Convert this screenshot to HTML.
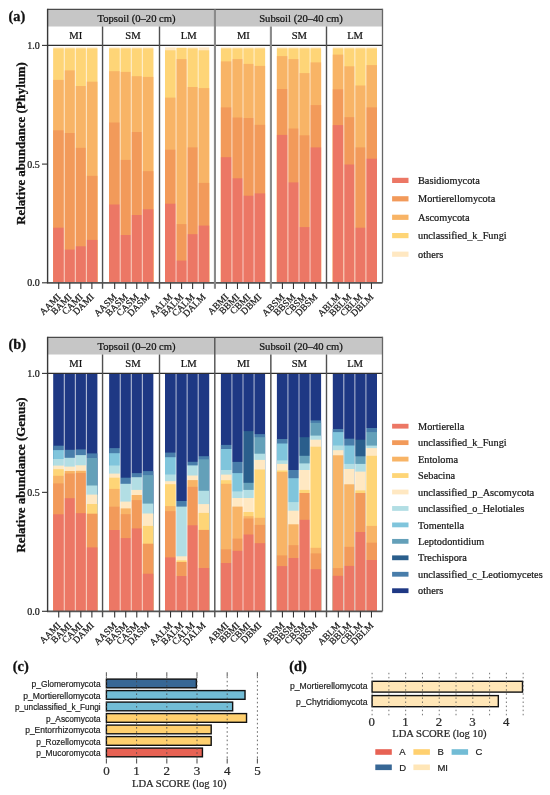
<!DOCTYPE html>
<html><head><meta charset="utf-8"><style>
html,body{margin:0;padding:0;background:#fff;}
svg{display:block;will-change:transform;}
text{font-family:"Liberation Serif",serif;fill:#111;}
.st,.tk{stroke:#111;stroke-width:0.22px;}
.xl,.lg,.ax,.ax2,.axt{stroke:#111;stroke-width:0.22px;}
.cl,.dl{stroke:#1a1a1a;stroke-width:0.18px;}
.pl,.yt{stroke:#111;stroke-width:0.3px;}
.pl{font-size:14.4px;font-weight:bold;}
.st{font-size:10.6px;}
.tk{font-size:10px;fill:#222;}
.xl{font-size:9.5px;fill:#222;}
.yt{font-size:12.85px;font-weight:bold;}
.lg{font-size:10.3px;fill:#222;}
.cl{font-family:"Liberation Sans",sans-serif;font-size:8.5px;fill:#1a1a1a;}
.ax{font-size:13px;fill:#333;}
.ax2{font-size:12.8px;fill:#333;}
.axt{font-size:10.6px;fill:#333;}
.dl{font-family:"Liberation Sans",sans-serif;font-size:9.5px;fill:#222;}
</style></head><body>
<svg width="550" height="795" viewBox="0 0 550 795">
<rect x="0" y="0" width="550" height="795" fill="#fff"/>
<rect x="47.7" y="9.4" width="167.4" height="17.1" fill="#C6C6C6"/>
<rect x="215.1" y="9.4" width="167.3" height="17.1" fill="#C6C6C6"/>
<rect x="53.2" y="47.4" width="11.05" height="235" fill="#FFE8C2"/>
<rect x="53.2" y="48.4" width="11.05" height="234" fill="#FED577"/>
<rect x="53.2" y="79.9" width="11.05" height="202.5" fill="#F8B466"/>
<rect x="53.2" y="130.3" width="11.05" height="152.1" fill="#F29A5A"/>
<rect x="53.2" y="227.7" width="11.05" height="54.7" fill="#EC7765"/>
<rect x="64.25" y="47.4" width="11.05" height="235" fill="#FFE8C2"/>
<rect x="64.25" y="48.4" width="11.05" height="234" fill="#FED577"/>
<rect x="64.25" y="70.4" width="11.05" height="212" fill="#F8B466"/>
<rect x="64.25" y="133" width="11.05" height="149.4" fill="#F29A5A"/>
<rect x="64.25" y="249.6" width="11.05" height="32.8" fill="#EC7765"/>
<rect x="75.3" y="47.4" width="11.05" height="235" fill="#FFE8C2"/>
<rect x="75.3" y="48.4" width="11.05" height="234" fill="#FED577"/>
<rect x="75.3" y="86" width="11.05" height="196.4" fill="#F8B466"/>
<rect x="75.3" y="147.8" width="11.05" height="134.6" fill="#F29A5A"/>
<rect x="75.3" y="246.3" width="11.05" height="36.1" fill="#EC7765"/>
<rect x="86.35" y="47.4" width="11.05" height="235" fill="#FFE8C2"/>
<rect x="86.35" y="48.4" width="11.05" height="234" fill="#FED577"/>
<rect x="86.35" y="81.7" width="11.05" height="200.7" fill="#F8B466"/>
<rect x="86.35" y="175.8" width="11.05" height="106.6" fill="#F29A5A"/>
<rect x="86.35" y="239.9" width="11.05" height="42.5" fill="#EC7765"/>
<rect x="109.15" y="47.4" width="11.05" height="235" fill="#FFE8C2"/>
<rect x="109.15" y="48.4" width="11.05" height="234" fill="#FED577"/>
<rect x="109.15" y="71.2" width="11.05" height="211.2" fill="#F8B466"/>
<rect x="109.15" y="122.5" width="11.05" height="159.9" fill="#F29A5A"/>
<rect x="109.15" y="204.5" width="11.05" height="77.9" fill="#EC7765"/>
<rect x="120.2" y="47.4" width="11.05" height="235" fill="#FFE8C2"/>
<rect x="120.2" y="48.4" width="11.05" height="234" fill="#FED577"/>
<rect x="120.2" y="71.9" width="11.05" height="210.5" fill="#F8B466"/>
<rect x="120.2" y="159.9" width="11.05" height="122.5" fill="#F29A5A"/>
<rect x="120.2" y="235" width="11.05" height="47.4" fill="#EC7765"/>
<rect x="131.25" y="47.4" width="11.05" height="235" fill="#FFE8C2"/>
<rect x="131.25" y="48.4" width="11.05" height="234" fill="#FED577"/>
<rect x="131.25" y="76.2" width="11.05" height="206.2" fill="#F8B466"/>
<rect x="131.25" y="132" width="11.05" height="150.4" fill="#F29A5A"/>
<rect x="131.25" y="215" width="11.05" height="67.4" fill="#EC7765"/>
<rect x="142.3" y="47.4" width="11.05" height="235" fill="#FFE8C2"/>
<rect x="142.3" y="48.4" width="11.05" height="234" fill="#FED577"/>
<rect x="142.3" y="76.9" width="11.05" height="205.5" fill="#F8B466"/>
<rect x="142.3" y="171.2" width="11.05" height="111.2" fill="#F29A5A"/>
<rect x="142.3" y="209.3" width="11.05" height="73.1" fill="#EC7765"/>
<rect x="165" y="47.4" width="11.05" height="235" fill="#FFE8C2"/>
<rect x="165" y="50.3" width="11.05" height="232.1" fill="#FED577"/>
<rect x="165" y="97.6" width="11.05" height="184.8" fill="#F8B466"/>
<rect x="165" y="149.7" width="11.05" height="132.7" fill="#F29A5A"/>
<rect x="165" y="203.7" width="11.05" height="78.7" fill="#EC7765"/>
<rect x="176.05" y="47.4" width="11.05" height="235" fill="#FFE8C2"/>
<rect x="176.05" y="48" width="11.05" height="234.4" fill="#FED577"/>
<rect x="176.05" y="59.1" width="11.05" height="223.3" fill="#F8B466"/>
<rect x="176.05" y="224.1" width="11.05" height="58.3" fill="#F29A5A"/>
<rect x="176.05" y="260.6" width="11.05" height="21.8" fill="#EC7765"/>
<rect x="187.1" y="47.4" width="11.05" height="235" fill="#FFE8C2"/>
<rect x="187.1" y="48.4" width="11.05" height="234" fill="#FED577"/>
<rect x="187.1" y="87" width="11.05" height="195.4" fill="#F8B466"/>
<rect x="187.1" y="147.4" width="11.05" height="135" fill="#F29A5A"/>
<rect x="187.1" y="234.2" width="11.05" height="48.2" fill="#EC7765"/>
<rect x="198.15" y="47.4" width="11.05" height="235" fill="#FFE8C2"/>
<rect x="198.15" y="50.3" width="11.05" height="232.1" fill="#FED577"/>
<rect x="198.15" y="88.1" width="11.05" height="194.3" fill="#F8B466"/>
<rect x="198.15" y="182.9" width="11.05" height="99.5" fill="#F29A5A"/>
<rect x="198.15" y="225.6" width="11.05" height="56.8" fill="#EC7765"/>
<rect x="220.9" y="47.4" width="11.05" height="235" fill="#FFE8C2"/>
<rect x="220.9" y="48.4" width="11.05" height="234" fill="#FED577"/>
<rect x="220.9" y="61.4" width="11.05" height="221" fill="#F8B466"/>
<rect x="220.9" y="107.4" width="11.05" height="175" fill="#F29A5A"/>
<rect x="220.9" y="157.2" width="11.05" height="125.2" fill="#EC7765"/>
<rect x="231.95" y="47.4" width="11.05" height="235" fill="#FFE8C2"/>
<rect x="231.95" y="48.4" width="11.05" height="234" fill="#FED577"/>
<rect x="231.95" y="59.1" width="11.05" height="223.3" fill="#F8B466"/>
<rect x="231.95" y="117.5" width="11.05" height="164.9" fill="#F29A5A"/>
<rect x="231.95" y="178.3" width="11.05" height="104.1" fill="#EC7765"/>
<rect x="243" y="47.4" width="11.05" height="235" fill="#FFE8C2"/>
<rect x="243" y="48.4" width="11.05" height="234" fill="#FED577"/>
<rect x="243" y="63.9" width="11.05" height="218.5" fill="#F8B466"/>
<rect x="243" y="118" width="11.05" height="164.4" fill="#F29A5A"/>
<rect x="243" y="195.7" width="11.05" height="86.7" fill="#EC7765"/>
<rect x="254.05" y="47.4" width="11.05" height="235" fill="#FFE8C2"/>
<rect x="254.05" y="48.4" width="11.05" height="234" fill="#FED577"/>
<rect x="254.05" y="65.9" width="11.05" height="216.5" fill="#F8B466"/>
<rect x="254.05" y="124.8" width="11.05" height="157.6" fill="#F29A5A"/>
<rect x="254.05" y="193.4" width="11.05" height="89" fill="#EC7765"/>
<rect x="276.9" y="47.4" width="11.05" height="235" fill="#FFE8C2"/>
<rect x="276.9" y="48.4" width="11.05" height="234" fill="#FED577"/>
<rect x="276.9" y="56.1" width="11.05" height="226.3" fill="#F8B466"/>
<rect x="276.9" y="89" width="11.05" height="193.4" fill="#F29A5A"/>
<rect x="276.9" y="134.9" width="11.05" height="147.5" fill="#EC7765"/>
<rect x="287.95" y="47.4" width="11.05" height="235" fill="#FFE8C2"/>
<rect x="287.95" y="48.4" width="11.05" height="234" fill="#FED577"/>
<rect x="287.95" y="59.1" width="11.05" height="223.3" fill="#F8B466"/>
<rect x="287.95" y="128.5" width="11.05" height="153.9" fill="#F29A5A"/>
<rect x="287.95" y="182.4" width="11.05" height="100" fill="#EC7765"/>
<rect x="299" y="47.4" width="11.05" height="235" fill="#FFE8C2"/>
<rect x="299" y="48.4" width="11.05" height="234" fill="#FED577"/>
<rect x="299" y="73.1" width="11.05" height="209.3" fill="#F8B466"/>
<rect x="299" y="135.3" width="11.05" height="147.1" fill="#F29A5A"/>
<rect x="299" y="227.1" width="11.05" height="55.3" fill="#EC7765"/>
<rect x="310.05" y="47.4" width="11.05" height="235" fill="#FFE8C2"/>
<rect x="310.05" y="48.4" width="11.05" height="234" fill="#FED577"/>
<rect x="310.05" y="62.4" width="11.05" height="220" fill="#F8B466"/>
<rect x="310.05" y="105.1" width="11.05" height="177.3" fill="#F29A5A"/>
<rect x="310.05" y="147.4" width="11.05" height="135" fill="#EC7765"/>
<rect x="332.8" y="47.4" width="11.05" height="235" fill="#FFE8C2"/>
<rect x="332.8" y="48.4" width="11.05" height="234" fill="#FED577"/>
<rect x="332.8" y="54.6" width="11.05" height="227.8" fill="#F8B466"/>
<rect x="332.8" y="89.3" width="11.05" height="193.1" fill="#F29A5A"/>
<rect x="332.8" y="125.1" width="11.05" height="157.3" fill="#EC7765"/>
<rect x="343.85" y="47.4" width="11.05" height="235" fill="#FFE8C2"/>
<rect x="343.85" y="48.4" width="11.05" height="234" fill="#FED577"/>
<rect x="343.85" y="66.3" width="11.05" height="216.1" fill="#F8B466"/>
<rect x="343.85" y="117.2" width="11.05" height="165.2" fill="#F29A5A"/>
<rect x="343.85" y="164.5" width="11.05" height="117.9" fill="#EC7765"/>
<rect x="354.9" y="47.4" width="11.05" height="235" fill="#FFE8C2"/>
<rect x="354.9" y="48.4" width="11.05" height="234" fill="#FED577"/>
<rect x="354.9" y="85.5" width="11.05" height="196.9" fill="#F8B466"/>
<rect x="354.9" y="147.4" width="11.05" height="135" fill="#F29A5A"/>
<rect x="354.9" y="227.7" width="11.05" height="54.7" fill="#EC7765"/>
<rect x="365.95" y="47.4" width="11.05" height="235" fill="#FFE8C2"/>
<rect x="365.95" y="48.4" width="11.05" height="234" fill="#FED577"/>
<rect x="365.95" y="65.1" width="11.05" height="217.3" fill="#F8B466"/>
<rect x="365.95" y="107.4" width="11.05" height="175" fill="#F29A5A"/>
<rect x="365.95" y="158.7" width="11.05" height="123.7" fill="#EC7765"/>
<line x1="64.25" y1="45.4" x2="64.25" y2="282.8" stroke="#fff" stroke-width="0.75" opacity="0.85"/>
<line x1="75.3" y1="45.4" x2="75.3" y2="282.8" stroke="#fff" stroke-width="0.75" opacity="0.85"/>
<line x1="86.35" y1="45.4" x2="86.35" y2="282.8" stroke="#fff" stroke-width="0.75" opacity="0.85"/>
<line x1="120.2" y1="45.4" x2="120.2" y2="282.8" stroke="#fff" stroke-width="0.75" opacity="0.85"/>
<line x1="131.25" y1="45.4" x2="131.25" y2="282.8" stroke="#fff" stroke-width="0.75" opacity="0.85"/>
<line x1="142.3" y1="45.4" x2="142.3" y2="282.8" stroke="#fff" stroke-width="0.75" opacity="0.85"/>
<line x1="176.05" y1="45.4" x2="176.05" y2="282.8" stroke="#fff" stroke-width="0.75" opacity="0.85"/>
<line x1="187.1" y1="45.4" x2="187.1" y2="282.8" stroke="#fff" stroke-width="0.75" opacity="0.85"/>
<line x1="198.15" y1="45.4" x2="198.15" y2="282.8" stroke="#fff" stroke-width="0.75" opacity="0.85"/>
<line x1="231.95" y1="45.4" x2="231.95" y2="282.8" stroke="#fff" stroke-width="0.75" opacity="0.85"/>
<line x1="243" y1="45.4" x2="243" y2="282.8" stroke="#fff" stroke-width="0.75" opacity="0.85"/>
<line x1="254.05" y1="45.4" x2="254.05" y2="282.8" stroke="#fff" stroke-width="0.75" opacity="0.85"/>
<line x1="287.95" y1="45.4" x2="287.95" y2="282.8" stroke="#fff" stroke-width="0.75" opacity="0.85"/>
<line x1="299" y1="45.4" x2="299" y2="282.8" stroke="#fff" stroke-width="0.75" opacity="0.85"/>
<line x1="310.05" y1="45.4" x2="310.05" y2="282.8" stroke="#fff" stroke-width="0.75" opacity="0.85"/>
<line x1="343.85" y1="45.4" x2="343.85" y2="282.8" stroke="#fff" stroke-width="0.75" opacity="0.85"/>
<line x1="354.9" y1="45.4" x2="354.9" y2="282.8" stroke="#fff" stroke-width="0.75" opacity="0.85"/>
<line x1="365.95" y1="45.4" x2="365.95" y2="282.8" stroke="#fff" stroke-width="0.75" opacity="0.85"/>
<line x1="47.6" y1="9.4" x2="382.5" y2="9.4" stroke="#4a4a4a" stroke-width="1.25"/>
<line x1="47.6" y1="45.4" x2="382.5" y2="45.4" stroke="#2e2e2e" stroke-width="1.25"/>
<line x1="46.9" y1="282.8" x2="382.5" y2="282.8" stroke="#555" stroke-width="1.8"/>
<line x1="47.6" y1="8.8" x2="47.6" y2="282.8" stroke="#383838" stroke-width="1.4"/>
<line x1="382.5" y1="8.8" x2="382.5" y2="282.8" stroke="#666" stroke-width="1.3"/>
<line x1="102.55" y1="26.5" x2="102.55" y2="288.7" stroke="#505050" stroke-width="1.4"/>
<line x1="159.5" y1="26.5" x2="159.5" y2="288.7" stroke="#505050" stroke-width="1.4"/>
<line x1="326.5" y1="26.5" x2="326.5" y2="288.7" stroke="#505050" stroke-width="1.4"/>
<line x1="214.95" y1="9.4" x2="214.95" y2="288.7" stroke="#8a8a8a" stroke-width="2.1"/>
<line x1="270.9" y1="26.5" x2="270.9" y2="288.7" stroke="#8a8a8a" stroke-width="2.1"/>
<line x1="42" y1="282.8" x2="47.7" y2="282.8" stroke="#333" stroke-width="1.1"/>
<line x1="42" y1="164.1" x2="47.7" y2="164.1" stroke="#333" stroke-width="1.1"/>
<line x1="42" y1="45.4" x2="47.7" y2="45.4" stroke="#333" stroke-width="1.1"/>
<line x1="58.73" y1="282.8" x2="58.73" y2="289" stroke="#333" stroke-width="1.1"/>
<line x1="69.78" y1="282.8" x2="69.78" y2="289" stroke="#333" stroke-width="1.1"/>
<line x1="80.83" y1="282.8" x2="80.83" y2="289" stroke="#333" stroke-width="1.1"/>
<line x1="91.88" y1="282.8" x2="91.88" y2="289" stroke="#333" stroke-width="1.1"/>
<line x1="114.68" y1="282.8" x2="114.68" y2="289" stroke="#333" stroke-width="1.1"/>
<line x1="125.73" y1="282.8" x2="125.73" y2="289" stroke="#333" stroke-width="1.1"/>
<line x1="136.78" y1="282.8" x2="136.78" y2="289" stroke="#333" stroke-width="1.1"/>
<line x1="147.83" y1="282.8" x2="147.83" y2="289" stroke="#333" stroke-width="1.1"/>
<line x1="170.53" y1="282.8" x2="170.53" y2="289" stroke="#333" stroke-width="1.1"/>
<line x1="181.58" y1="282.8" x2="181.58" y2="289" stroke="#333" stroke-width="1.1"/>
<line x1="192.62" y1="282.8" x2="192.62" y2="289" stroke="#333" stroke-width="1.1"/>
<line x1="203.68" y1="282.8" x2="203.68" y2="289" stroke="#333" stroke-width="1.1"/>
<line x1="226.43" y1="282.8" x2="226.43" y2="289" stroke="#333" stroke-width="1.1"/>
<line x1="237.48" y1="282.8" x2="237.48" y2="289" stroke="#333" stroke-width="1.1"/>
<line x1="248.53" y1="282.8" x2="248.53" y2="289" stroke="#333" stroke-width="1.1"/>
<line x1="259.57" y1="282.8" x2="259.57" y2="289" stroke="#333" stroke-width="1.1"/>
<line x1="282.42" y1="282.8" x2="282.42" y2="289" stroke="#333" stroke-width="1.1"/>
<line x1="293.47" y1="282.8" x2="293.47" y2="289" stroke="#333" stroke-width="1.1"/>
<line x1="304.52" y1="282.8" x2="304.52" y2="289" stroke="#333" stroke-width="1.1"/>
<line x1="315.57" y1="282.8" x2="315.57" y2="289" stroke="#333" stroke-width="1.1"/>
<line x1="338.32" y1="282.8" x2="338.32" y2="289" stroke="#333" stroke-width="1.1"/>
<line x1="349.38" y1="282.8" x2="349.38" y2="289" stroke="#333" stroke-width="1.1"/>
<line x1="360.43" y1="282.8" x2="360.43" y2="289" stroke="#333" stroke-width="1.1"/>
<line x1="371.48" y1="282.8" x2="371.48" y2="289" stroke="#333" stroke-width="1.1"/>
<text x="8.5" y="20.6" class="pl">(a)</text>
<text x="136.5" y="22.3" class="st" text-anchor="middle">Topsoil (0–20 cm)</text>
<text x="301" y="22.3" class="st" text-anchor="middle">Subsoil (20–40 cm)</text>
<text x="75.8" y="38.9" class="st" text-anchor="middle">MI</text>
<text x="133" y="38.9" class="st" text-anchor="middle">SM</text>
<text x="188.8" y="38.9" class="st" text-anchor="middle">LM</text>
<text x="243.4" y="38.9" class="st" text-anchor="middle">MI</text>
<text x="299.3" y="38.9" class="st" text-anchor="middle">SM</text>
<text x="355.1" y="38.9" class="st" text-anchor="middle">LM</text>
<text x="39.7" y="286.3" class="tk" text-anchor="end">0.0</text>
<text x="39.7" y="167.6" class="tk" text-anchor="end">0.5</text>
<text x="39.7" y="48.9" class="tk" text-anchor="end">1.0</text>
<text transform="translate(61.23,297.6) rotate(-45)" class="xl" text-anchor="end">AAMI</text>
<text transform="translate(72.28,297.6) rotate(-45)" class="xl" text-anchor="end">BAMI</text>
<text transform="translate(83.33,297.6) rotate(-45)" class="xl" text-anchor="end">CAMI</text>
<text transform="translate(94.38,297.6) rotate(-45)" class="xl" text-anchor="end">DAMI</text>
<text transform="translate(117.18,297.6) rotate(-45)" class="xl" text-anchor="end">AASM</text>
<text transform="translate(128.23,297.6) rotate(-45)" class="xl" text-anchor="end">BASM</text>
<text transform="translate(139.28,297.6) rotate(-45)" class="xl" text-anchor="end">CASM</text>
<text transform="translate(150.33,297.6) rotate(-45)" class="xl" text-anchor="end">DASM</text>
<text transform="translate(173.03,297.6) rotate(-45)" class="xl" text-anchor="end">AALM</text>
<text transform="translate(184.08,297.6) rotate(-45)" class="xl" text-anchor="end">BALM</text>
<text transform="translate(195.12,297.6) rotate(-45)" class="xl" text-anchor="end">CALM</text>
<text transform="translate(206.18,297.6) rotate(-45)" class="xl" text-anchor="end">DALM</text>
<text transform="translate(228.93,297.6) rotate(-45)" class="xl" text-anchor="end">ABMI</text>
<text transform="translate(239.98,297.6) rotate(-45)" class="xl" text-anchor="end">BBMI</text>
<text transform="translate(251.03,297.6) rotate(-45)" class="xl" text-anchor="end">CBMI</text>
<text transform="translate(262.07,297.6) rotate(-45)" class="xl" text-anchor="end">DBMI</text>
<text transform="translate(284.92,297.6) rotate(-45)" class="xl" text-anchor="end">ABSM</text>
<text transform="translate(295.97,297.6) rotate(-45)" class="xl" text-anchor="end">BBSM</text>
<text transform="translate(307.02,297.6) rotate(-45)" class="xl" text-anchor="end">CBSM</text>
<text transform="translate(318.07,297.6) rotate(-45)" class="xl" text-anchor="end">DBSM</text>
<text transform="translate(340.82,297.6) rotate(-45)" class="xl" text-anchor="end">ABLM</text>
<text transform="translate(351.88,297.6) rotate(-45)" class="xl" text-anchor="end">BBLM</text>
<text transform="translate(362.93,297.6) rotate(-45)" class="xl" text-anchor="end">CBLM</text>
<text transform="translate(373.98,297.6) rotate(-45)" class="xl" text-anchor="end">DBLM</text>
<text transform="translate(25,143.5) rotate(-90)" class="yt" text-anchor="middle">Relative abundance (Phylum)</text>
<rect x="47.7" y="337.4" width="167.4" height="17.1" fill="#C6C6C6"/>
<rect x="215.1" y="337.4" width="167.3" height="17.1" fill="#C6C6C6"/>
<rect x="53.2" y="373.3" width="11.05" height="237.6" fill="#1E3884"/>
<rect x="53.2" y="445.7" width="11.05" height="165.2" fill="#487DAA"/>
<rect x="53.2" y="450.1" width="11.05" height="160.8" fill="#80C5DC"/>
<rect x="53.2" y="459" width="11.05" height="151.9" fill="#B2DEE4"/>
<rect x="53.2" y="465.6" width="11.05" height="145.3" fill="#FFE8C2"/>
<rect x="53.2" y="469.2" width="11.05" height="141.7" fill="#FED577"/>
<rect x="53.2" y="475.8" width="11.05" height="135.1" fill="#F8B466"/>
<rect x="53.2" y="483.4" width="11.05" height="127.5" fill="#F29A5A"/>
<rect x="53.2" y="514.3" width="11.05" height="96.6" fill="#EC7765"/>
<rect x="64.25" y="373.3" width="11.05" height="237.6" fill="#1E3884"/>
<rect x="64.25" y="449.8" width="11.05" height="161.1" fill="#487DAA"/>
<rect x="64.25" y="457.8" width="11.05" height="153.1" fill="#B2DEE4"/>
<rect x="64.25" y="466.6" width="11.05" height="144.3" fill="#FFE8C2"/>
<rect x="64.25" y="471" width="11.05" height="139.9" fill="#F8B466"/>
<rect x="64.25" y="473.5" width="11.05" height="137.4" fill="#F29A5A"/>
<rect x="64.25" y="498.2" width="11.05" height="112.7" fill="#EC7765"/>
<rect x="75.3" y="373.3" width="11.05" height="237.6" fill="#1E3884"/>
<rect x="75.3" y="449.4" width="11.05" height="161.5" fill="#487DAA"/>
<rect x="75.3" y="455.1" width="11.05" height="155.8" fill="#B2DEE4"/>
<rect x="75.3" y="465.3" width="11.05" height="145.6" fill="#FFE8C2"/>
<rect x="75.3" y="470.8" width="11.05" height="140.1" fill="#F8B466"/>
<rect x="75.3" y="473" width="11.05" height="137.9" fill="#F29A5A"/>
<rect x="75.3" y="513.2" width="11.05" height="97.7" fill="#EC7765"/>
<rect x="86.35" y="373.3" width="11.05" height="237.6" fill="#1E3884"/>
<rect x="86.35" y="453.4" width="11.05" height="157.5" fill="#487DAA"/>
<rect x="86.35" y="458" width="11.05" height="152.9" fill="#64A0B9"/>
<rect x="86.35" y="485.5" width="11.05" height="125.4" fill="#B2DEE4"/>
<rect x="86.35" y="494.6" width="11.05" height="116.3" fill="#FFE8C2"/>
<rect x="86.35" y="504" width="11.05" height="106.9" fill="#FED577"/>
<rect x="86.35" y="513.7" width="11.05" height="97.2" fill="#F29A5A"/>
<rect x="86.35" y="547.4" width="11.05" height="63.5" fill="#EC7765"/>
<rect x="109.15" y="373.3" width="11.05" height="237.6" fill="#1E3884"/>
<rect x="109.15" y="448.1" width="11.05" height="162.8" fill="#487DAA"/>
<rect x="109.15" y="453.2" width="11.05" height="157.7" fill="#80C5DC"/>
<rect x="109.15" y="465.5" width="11.05" height="145.4" fill="#B2DEE4"/>
<rect x="109.15" y="473.6" width="11.05" height="137.3" fill="#FFE8C2"/>
<rect x="109.15" y="477.7" width="11.05" height="133.2" fill="#FED577"/>
<rect x="109.15" y="488.9" width="11.05" height="122" fill="#F8B466"/>
<rect x="109.15" y="506.7" width="11.05" height="104.2" fill="#F29A5A"/>
<rect x="109.15" y="530" width="11.05" height="80.9" fill="#EC7765"/>
<rect x="120.2" y="373.3" width="11.05" height="237.6" fill="#1E3884"/>
<rect x="120.2" y="477.7" width="11.05" height="133.2" fill="#487DAA"/>
<rect x="120.2" y="483.8" width="11.05" height="127.1" fill="#B2DEE4"/>
<rect x="120.2" y="501.6" width="11.05" height="109.3" fill="#FFE8C2"/>
<rect x="120.2" y="508.4" width="11.05" height="102.5" fill="#F8B466"/>
<rect x="120.2" y="514.2" width="11.05" height="96.7" fill="#F29A5A"/>
<rect x="120.2" y="538.1" width="11.05" height="72.8" fill="#EC7765"/>
<rect x="131.25" y="373.3" width="11.05" height="237.6" fill="#1E3884"/>
<rect x="131.25" y="473.1" width="11.05" height="137.8" fill="#487DAA"/>
<rect x="131.25" y="477.2" width="11.05" height="133.7" fill="#B2DEE4"/>
<rect x="131.25" y="489.9" width="11.05" height="121" fill="#FFE8C2"/>
<rect x="131.25" y="495" width="11.05" height="115.9" fill="#F8B466"/>
<rect x="131.25" y="500.1" width="11.05" height="110.8" fill="#F29A5A"/>
<rect x="131.25" y="528.4" width="11.05" height="82.5" fill="#EC7765"/>
<rect x="142.3" y="373.3" width="11.05" height="237.6" fill="#1E3884"/>
<rect x="142.3" y="471.1" width="11.05" height="139.8" fill="#487DAA"/>
<rect x="142.3" y="475.1" width="11.05" height="135.8" fill="#64A0B9"/>
<rect x="142.3" y="503.6" width="11.05" height="107.3" fill="#B2DEE4"/>
<rect x="142.3" y="513.5" width="11.05" height="97.4" fill="#FFE8C2"/>
<rect x="142.3" y="525.9" width="11.05" height="85" fill="#FED577"/>
<rect x="142.3" y="543.7" width="11.05" height="67.2" fill="#F29A5A"/>
<rect x="142.3" y="573.7" width="11.05" height="37.2" fill="#EC7765"/>
<rect x="165" y="373.3" width="11.05" height="237.6" fill="#1E3884"/>
<rect x="165" y="452.6" width="11.05" height="158.3" fill="#487DAA"/>
<rect x="165" y="457.2" width="11.05" height="153.7" fill="#80C5DC"/>
<rect x="165" y="474.5" width="11.05" height="136.4" fill="#B2DEE4"/>
<rect x="165" y="481.2" width="11.05" height="129.7" fill="#FFE8C2"/>
<rect x="165" y="484.2" width="11.05" height="126.7" fill="#FED577"/>
<rect x="165" y="506.1" width="11.05" height="104.8" fill="#F8B466"/>
<rect x="165" y="511.2" width="11.05" height="99.7" fill="#F29A5A"/>
<rect x="165" y="557.4" width="11.05" height="53.5" fill="#EC7765"/>
<rect x="176.05" y="373.3" width="11.05" height="237.6" fill="#1E3884"/>
<rect x="176.05" y="501" width="11.05" height="109.9" fill="#487DAA"/>
<rect x="176.05" y="506.6" width="11.05" height="104.3" fill="#B2DEE4"/>
<rect x="176.05" y="556.3" width="11.05" height="54.6" fill="#FFE8C2"/>
<rect x="176.05" y="560.4" width="11.05" height="50.5" fill="#FED577"/>
<rect x="176.05" y="562" width="11.05" height="48.9" fill="#F29A5A"/>
<rect x="176.05" y="576" width="11.05" height="34.9" fill="#EC7765"/>
<rect x="187.1" y="373.3" width="11.05" height="237.6" fill="#1E3884"/>
<rect x="187.1" y="461.8" width="11.05" height="149.1" fill="#487DAA"/>
<rect x="187.1" y="465.4" width="11.05" height="145.5" fill="#B2DEE4"/>
<rect x="187.1" y="475.5" width="11.05" height="135.4" fill="#FFE8C2"/>
<rect x="187.1" y="480.1" width="11.05" height="130.8" fill="#F8B466"/>
<rect x="187.1" y="486.8" width="11.05" height="124.1" fill="#F29A5A"/>
<rect x="187.1" y="525.3" width="11.05" height="85.6" fill="#EC7765"/>
<rect x="198.15" y="373.3" width="11.05" height="237.6" fill="#1E3884"/>
<rect x="198.15" y="456.2" width="11.05" height="154.7" fill="#487DAA"/>
<rect x="198.15" y="459.3" width="11.05" height="151.6" fill="#64A0B9"/>
<rect x="198.15" y="490.8" width="11.05" height="120.1" fill="#B2DEE4"/>
<rect x="198.15" y="504.1" width="11.05" height="106.8" fill="#FFE8C2"/>
<rect x="198.15" y="512.9" width="11.05" height="98" fill="#FED577"/>
<rect x="198.15" y="529.9" width="11.05" height="81" fill="#F29A5A"/>
<rect x="198.15" y="568" width="11.05" height="42.9" fill="#EC7765"/>
<rect x="220.9" y="373.3" width="11.05" height="237.6" fill="#1E3884"/>
<rect x="220.9" y="444.9" width="11.05" height="166" fill="#487DAA"/>
<rect x="220.9" y="449" width="11.05" height="161.9" fill="#80C5DC"/>
<rect x="220.9" y="470" width="11.05" height="140.9" fill="#B2DEE4"/>
<rect x="220.9" y="474.6" width="11.05" height="136.3" fill="#FFE8C2"/>
<rect x="220.9" y="480.2" width="11.05" height="130.7" fill="#FED577"/>
<rect x="220.9" y="483.8" width="11.05" height="127.1" fill="#F8B466"/>
<rect x="220.9" y="549.3" width="11.05" height="61.6" fill="#F29A5A"/>
<rect x="220.9" y="563" width="11.05" height="47.9" fill="#EC7765"/>
<rect x="231.95" y="373.3" width="11.05" height="237.6" fill="#1E3884"/>
<rect x="231.95" y="461.9" width="11.05" height="149" fill="#487DAA"/>
<rect x="231.95" y="473.1" width="11.05" height="137.8" fill="#80C5DC"/>
<rect x="231.95" y="491.4" width="11.05" height="119.5" fill="#B2DEE4"/>
<rect x="231.95" y="498" width="11.05" height="112.9" fill="#FFE8C2"/>
<rect x="231.95" y="506.6" width="11.05" height="104.3" fill="#F8B466"/>
<rect x="231.95" y="538.6" width="11.05" height="72.3" fill="#F29A5A"/>
<rect x="231.95" y="550.8" width="11.05" height="60.1" fill="#EC7765"/>
<rect x="243" y="373.3" width="11.05" height="237.6" fill="#1E3884"/>
<rect x="243" y="431.1" width="11.05" height="179.8" fill="#2A5E8C"/>
<rect x="243" y="482.8" width="11.05" height="128.1" fill="#64A0B9"/>
<rect x="243" y="489.9" width="11.05" height="121" fill="#B2DEE4"/>
<rect x="243" y="498" width="11.05" height="112.9" fill="#FFE8C2"/>
<rect x="243" y="512" width="11.05" height="98.9" fill="#FED577"/>
<rect x="243" y="516.2" width="11.05" height="94.7" fill="#F8B466"/>
<rect x="243" y="518.5" width="11.05" height="92.4" fill="#F29A5A"/>
<rect x="243" y="534.5" width="11.05" height="76.4" fill="#EC7765"/>
<rect x="254.05" y="373.3" width="11.05" height="237.6" fill="#1E3884"/>
<rect x="254.05" y="434.1" width="11.05" height="176.8" fill="#487DAA"/>
<rect x="254.05" y="437.2" width="11.05" height="173.7" fill="#64A0B9"/>
<rect x="254.05" y="453.7" width="11.05" height="157.2" fill="#B2DEE4"/>
<rect x="254.05" y="459.9" width="11.05" height="151" fill="#FFE8C2"/>
<rect x="254.05" y="469.5" width="11.05" height="141.4" fill="#FED577"/>
<rect x="254.05" y="517.8" width="11.05" height="93.1" fill="#F8B466"/>
<rect x="254.05" y="524.9" width="11.05" height="86" fill="#F29A5A"/>
<rect x="254.05" y="543.2" width="11.05" height="67.7" fill="#EC7765"/>
<rect x="276.9" y="373.3" width="11.05" height="237.6" fill="#1E3884"/>
<rect x="276.9" y="439" width="11.05" height="171.9" fill="#487DAA"/>
<rect x="276.9" y="443.5" width="11.05" height="167.4" fill="#80C5DC"/>
<rect x="276.9" y="460.4" width="11.05" height="150.5" fill="#B2DEE4"/>
<rect x="276.9" y="463.9" width="11.05" height="147" fill="#FFE8C2"/>
<rect x="276.9" y="470.5" width="11.05" height="140.4" fill="#FED577"/>
<rect x="276.9" y="472" width="11.05" height="138.9" fill="#F8B466"/>
<rect x="276.9" y="555.4" width="11.05" height="55.5" fill="#F29A5A"/>
<rect x="276.9" y="566.1" width="11.05" height="44.8" fill="#EC7765"/>
<rect x="287.95" y="373.3" width="11.05" height="237.6" fill="#1E3884"/>
<rect x="287.95" y="470" width="11.05" height="140.9" fill="#487DAA"/>
<rect x="287.95" y="478.2" width="11.05" height="132.7" fill="#80C5DC"/>
<rect x="287.95" y="502.1" width="11.05" height="108.8" fill="#B2DEE4"/>
<rect x="287.95" y="510.7" width="11.05" height="100.2" fill="#FFE8C2"/>
<rect x="287.95" y="524.3" width="11.05" height="86.6" fill="#F8B466"/>
<rect x="287.95" y="545.2" width="11.05" height="65.7" fill="#F29A5A"/>
<rect x="287.95" y="558" width="11.05" height="52.9" fill="#EC7765"/>
<rect x="299" y="373.3" width="11.05" height="237.6" fill="#1E3884"/>
<rect x="299" y="437.2" width="11.05" height="173.7" fill="#2A5E8C"/>
<rect x="299" y="455.8" width="11.05" height="155.1" fill="#64A0B9"/>
<rect x="299" y="463.4" width="11.05" height="147.5" fill="#B2DEE4"/>
<rect x="299" y="470" width="11.05" height="140.9" fill="#FFE8C2"/>
<rect x="299" y="489.9" width="11.05" height="121" fill="#FED577"/>
<rect x="299" y="493" width="11.05" height="117.9" fill="#F29A5A"/>
<rect x="299" y="519.8" width="11.05" height="91.1" fill="#EC7765"/>
<rect x="310.05" y="373.3" width="11.05" height="237.6" fill="#1E3884"/>
<rect x="310.05" y="420.4" width="11.05" height="190.5" fill="#487DAA"/>
<rect x="310.05" y="422.9" width="11.05" height="188" fill="#64A0B9"/>
<rect x="310.05" y="435.6" width="11.05" height="175.3" fill="#B2DEE4"/>
<rect x="310.05" y="439.7" width="11.05" height="171.2" fill="#FFE8C2"/>
<rect x="310.05" y="446.7" width="11.05" height="164.2" fill="#FED577"/>
<rect x="310.05" y="547.8" width="11.05" height="63.1" fill="#F8B466"/>
<rect x="310.05" y="553.4" width="11.05" height="57.5" fill="#F29A5A"/>
<rect x="310.05" y="569.2" width="11.05" height="41.7" fill="#EC7765"/>
<rect x="332.8" y="373.3" width="11.05" height="237.6" fill="#1E3884"/>
<rect x="332.8" y="429" width="11.05" height="181.9" fill="#487DAA"/>
<rect x="332.8" y="432.1" width="11.05" height="178.8" fill="#80C5DC"/>
<rect x="332.8" y="445.5" width="11.05" height="165.4" fill="#B2DEE4"/>
<rect x="332.8" y="450.2" width="11.05" height="160.7" fill="#FFE8C2"/>
<rect x="332.8" y="455.3" width="11.05" height="155.6" fill="#F8B466"/>
<rect x="332.8" y="568.1" width="11.05" height="42.8" fill="#F29A5A"/>
<rect x="332.8" y="575.8" width="11.05" height="35.1" fill="#EC7765"/>
<rect x="343.85" y="373.3" width="11.05" height="237.6" fill="#1E3884"/>
<rect x="343.85" y="438.7" width="11.05" height="172.2" fill="#487DAA"/>
<rect x="343.85" y="445.5" width="11.05" height="165.4" fill="#80C5DC"/>
<rect x="343.85" y="463.9" width="11.05" height="147" fill="#B2DEE4"/>
<rect x="343.85" y="469" width="11.05" height="141.9" fill="#FFE8C2"/>
<rect x="343.85" y="484.3" width="11.05" height="126.6" fill="#F8B466"/>
<rect x="343.85" y="546.8" width="11.05" height="64.1" fill="#F29A5A"/>
<rect x="343.85" y="565.9" width="11.05" height="45" fill="#EC7765"/>
<rect x="354.9" y="373.3" width="11.05" height="237.6" fill="#1E3884"/>
<rect x="354.9" y="439.7" width="11.05" height="171.2" fill="#2A5E8C"/>
<rect x="354.9" y="456.3" width="11.05" height="154.6" fill="#64A0B9"/>
<rect x="354.9" y="463.9" width="11.05" height="147" fill="#B2DEE4"/>
<rect x="354.9" y="471.6" width="11.05" height="139.3" fill="#FFE8C2"/>
<rect x="354.9" y="490.4" width="11.05" height="120.5" fill="#FED577"/>
<rect x="354.9" y="493" width="11.05" height="117.9" fill="#F29A5A"/>
<rect x="354.9" y="532" width="11.05" height="78.9" fill="#EC7765"/>
<rect x="365.95" y="373.3" width="11.05" height="237.6" fill="#1E3884"/>
<rect x="365.95" y="428" width="11.05" height="182.9" fill="#487DAA"/>
<rect x="365.95" y="432.1" width="11.05" height="178.8" fill="#64A0B9"/>
<rect x="365.95" y="445.6" width="11.05" height="165.3" fill="#B2DEE4"/>
<rect x="365.95" y="448.1" width="11.05" height="162.8" fill="#FFE8C2"/>
<rect x="365.95" y="455.8" width="11.05" height="155.1" fill="#FED577"/>
<rect x="365.95" y="525.9" width="11.05" height="85" fill="#F8B466"/>
<rect x="365.95" y="542.7" width="11.05" height="68.2" fill="#F29A5A"/>
<rect x="365.95" y="560" width="11.05" height="50.9" fill="#EC7765"/>
<line x1="64.25" y1="373.4" x2="64.25" y2="611.3" stroke="#fff" stroke-width="0.75" opacity="0.85"/>
<line x1="75.3" y1="373.4" x2="75.3" y2="611.3" stroke="#fff" stroke-width="0.75" opacity="0.85"/>
<line x1="86.35" y1="373.4" x2="86.35" y2="611.3" stroke="#fff" stroke-width="0.75" opacity="0.85"/>
<line x1="120.2" y1="373.4" x2="120.2" y2="611.3" stroke="#fff" stroke-width="0.75" opacity="0.85"/>
<line x1="131.25" y1="373.4" x2="131.25" y2="611.3" stroke="#fff" stroke-width="0.75" opacity="0.85"/>
<line x1="142.3" y1="373.4" x2="142.3" y2="611.3" stroke="#fff" stroke-width="0.75" opacity="0.85"/>
<line x1="176.05" y1="373.4" x2="176.05" y2="611.3" stroke="#fff" stroke-width="0.75" opacity="0.85"/>
<line x1="187.1" y1="373.4" x2="187.1" y2="611.3" stroke="#fff" stroke-width="0.75" opacity="0.85"/>
<line x1="198.15" y1="373.4" x2="198.15" y2="611.3" stroke="#fff" stroke-width="0.75" opacity="0.85"/>
<line x1="231.95" y1="373.4" x2="231.95" y2="611.3" stroke="#fff" stroke-width="0.75" opacity="0.85"/>
<line x1="243" y1="373.4" x2="243" y2="611.3" stroke="#fff" stroke-width="0.75" opacity="0.85"/>
<line x1="254.05" y1="373.4" x2="254.05" y2="611.3" stroke="#fff" stroke-width="0.75" opacity="0.85"/>
<line x1="287.95" y1="373.4" x2="287.95" y2="611.3" stroke="#fff" stroke-width="0.75" opacity="0.85"/>
<line x1="299" y1="373.4" x2="299" y2="611.3" stroke="#fff" stroke-width="0.75" opacity="0.85"/>
<line x1="310.05" y1="373.4" x2="310.05" y2="611.3" stroke="#fff" stroke-width="0.75" opacity="0.85"/>
<line x1="343.85" y1="373.4" x2="343.85" y2="611.3" stroke="#fff" stroke-width="0.75" opacity="0.85"/>
<line x1="354.9" y1="373.4" x2="354.9" y2="611.3" stroke="#fff" stroke-width="0.75" opacity="0.85"/>
<line x1="365.95" y1="373.4" x2="365.95" y2="611.3" stroke="#fff" stroke-width="0.75" opacity="0.85"/>
<line x1="47.6" y1="337.4" x2="382.5" y2="337.4" stroke="#4a4a4a" stroke-width="1.25"/>
<line x1="47.6" y1="373.4" x2="382.5" y2="373.4" stroke="#2e2e2e" stroke-width="1.25"/>
<line x1="46.9" y1="611.3" x2="382.5" y2="611.3" stroke="#555" stroke-width="1.8"/>
<line x1="47.6" y1="336.8" x2="47.6" y2="611.3" stroke="#383838" stroke-width="1.4"/>
<line x1="382.5" y1="336.8" x2="382.5" y2="611.3" stroke="#666" stroke-width="1.3"/>
<line x1="102.55" y1="354.5" x2="102.55" y2="617.2" stroke="#505050" stroke-width="1.4"/>
<line x1="159.5" y1="354.5" x2="159.5" y2="617.2" stroke="#505050" stroke-width="1.4"/>
<line x1="326.5" y1="354.5" x2="326.5" y2="617.2" stroke="#505050" stroke-width="1.4"/>
<line x1="214.8" y1="337.4" x2="214.8" y2="617.2" stroke="#555" stroke-width="1.45"/>
<line x1="270.85" y1="354.5" x2="270.85" y2="617.2" stroke="#555" stroke-width="1.5"/>
<line x1="42" y1="611.3" x2="47.7" y2="611.3" stroke="#333" stroke-width="1.1"/>
<line x1="42" y1="492.35" x2="47.7" y2="492.35" stroke="#333" stroke-width="1.1"/>
<line x1="42" y1="373.4" x2="47.7" y2="373.4" stroke="#333" stroke-width="1.1"/>
<line x1="58.73" y1="611.3" x2="58.73" y2="617.5" stroke="#333" stroke-width="1.1"/>
<line x1="69.78" y1="611.3" x2="69.78" y2="617.5" stroke="#333" stroke-width="1.1"/>
<line x1="80.83" y1="611.3" x2="80.83" y2="617.5" stroke="#333" stroke-width="1.1"/>
<line x1="91.88" y1="611.3" x2="91.88" y2="617.5" stroke="#333" stroke-width="1.1"/>
<line x1="114.68" y1="611.3" x2="114.68" y2="617.5" stroke="#333" stroke-width="1.1"/>
<line x1="125.73" y1="611.3" x2="125.73" y2="617.5" stroke="#333" stroke-width="1.1"/>
<line x1="136.78" y1="611.3" x2="136.78" y2="617.5" stroke="#333" stroke-width="1.1"/>
<line x1="147.83" y1="611.3" x2="147.83" y2="617.5" stroke="#333" stroke-width="1.1"/>
<line x1="170.53" y1="611.3" x2="170.53" y2="617.5" stroke="#333" stroke-width="1.1"/>
<line x1="181.58" y1="611.3" x2="181.58" y2="617.5" stroke="#333" stroke-width="1.1"/>
<line x1="192.62" y1="611.3" x2="192.62" y2="617.5" stroke="#333" stroke-width="1.1"/>
<line x1="203.68" y1="611.3" x2="203.68" y2="617.5" stroke="#333" stroke-width="1.1"/>
<line x1="226.43" y1="611.3" x2="226.43" y2="617.5" stroke="#333" stroke-width="1.1"/>
<line x1="237.48" y1="611.3" x2="237.48" y2="617.5" stroke="#333" stroke-width="1.1"/>
<line x1="248.53" y1="611.3" x2="248.53" y2="617.5" stroke="#333" stroke-width="1.1"/>
<line x1="259.57" y1="611.3" x2="259.57" y2="617.5" stroke="#333" stroke-width="1.1"/>
<line x1="282.42" y1="611.3" x2="282.42" y2="617.5" stroke="#333" stroke-width="1.1"/>
<line x1="293.47" y1="611.3" x2="293.47" y2="617.5" stroke="#333" stroke-width="1.1"/>
<line x1="304.52" y1="611.3" x2="304.52" y2="617.5" stroke="#333" stroke-width="1.1"/>
<line x1="315.57" y1="611.3" x2="315.57" y2="617.5" stroke="#333" stroke-width="1.1"/>
<line x1="338.32" y1="611.3" x2="338.32" y2="617.5" stroke="#333" stroke-width="1.1"/>
<line x1="349.38" y1="611.3" x2="349.38" y2="617.5" stroke="#333" stroke-width="1.1"/>
<line x1="360.43" y1="611.3" x2="360.43" y2="617.5" stroke="#333" stroke-width="1.1"/>
<line x1="371.48" y1="611.3" x2="371.48" y2="617.5" stroke="#333" stroke-width="1.1"/>
<text x="8.5" y="348.6" class="pl">(b)</text>
<text x="136.5" y="350.3" class="st" text-anchor="middle">Topsoil (0–20 cm)</text>
<text x="301" y="350.3" class="st" text-anchor="middle">Subsoil (20–40 cm)</text>
<text x="75.8" y="366.9" class="st" text-anchor="middle">MI</text>
<text x="133" y="366.9" class="st" text-anchor="middle">SM</text>
<text x="188.8" y="366.9" class="st" text-anchor="middle">LM</text>
<text x="243.4" y="366.9" class="st" text-anchor="middle">MI</text>
<text x="299.3" y="366.9" class="st" text-anchor="middle">SM</text>
<text x="355.1" y="366.9" class="st" text-anchor="middle">LM</text>
<text x="39.7" y="614.8" class="tk" text-anchor="end">0.0</text>
<text x="39.7" y="495.85" class="tk" text-anchor="end">0.5</text>
<text x="39.7" y="376.9" class="tk" text-anchor="end">1.0</text>
<text transform="translate(61.23,626.1) rotate(-45)" class="xl" text-anchor="end">AAMI</text>
<text transform="translate(72.28,626.1) rotate(-45)" class="xl" text-anchor="end">BAMI</text>
<text transform="translate(83.33,626.1) rotate(-45)" class="xl" text-anchor="end">CAMI</text>
<text transform="translate(94.38,626.1) rotate(-45)" class="xl" text-anchor="end">DAMI</text>
<text transform="translate(117.18,626.1) rotate(-45)" class="xl" text-anchor="end">AASM</text>
<text transform="translate(128.23,626.1) rotate(-45)" class="xl" text-anchor="end">BASM</text>
<text transform="translate(139.28,626.1) rotate(-45)" class="xl" text-anchor="end">CASM</text>
<text transform="translate(150.33,626.1) rotate(-45)" class="xl" text-anchor="end">DASM</text>
<text transform="translate(173.03,626.1) rotate(-45)" class="xl" text-anchor="end">AALM</text>
<text transform="translate(184.08,626.1) rotate(-45)" class="xl" text-anchor="end">BALM</text>
<text transform="translate(195.12,626.1) rotate(-45)" class="xl" text-anchor="end">CALM</text>
<text transform="translate(206.18,626.1) rotate(-45)" class="xl" text-anchor="end">DALM</text>
<text transform="translate(228.93,626.1) rotate(-45)" class="xl" text-anchor="end">ABMI</text>
<text transform="translate(239.98,626.1) rotate(-45)" class="xl" text-anchor="end">BBMI</text>
<text transform="translate(251.03,626.1) rotate(-45)" class="xl" text-anchor="end">CBMI</text>
<text transform="translate(262.07,626.1) rotate(-45)" class="xl" text-anchor="end">DBMI</text>
<text transform="translate(284.92,626.1) rotate(-45)" class="xl" text-anchor="end">ABSM</text>
<text transform="translate(295.97,626.1) rotate(-45)" class="xl" text-anchor="end">BBSM</text>
<text transform="translate(307.02,626.1) rotate(-45)" class="xl" text-anchor="end">CBSM</text>
<text transform="translate(318.07,626.1) rotate(-45)" class="xl" text-anchor="end">DBSM</text>
<text transform="translate(340.82,626.1) rotate(-45)" class="xl" text-anchor="end">ABLM</text>
<text transform="translate(351.88,626.1) rotate(-45)" class="xl" text-anchor="end">BBLM</text>
<text transform="translate(362.93,626.1) rotate(-45)" class="xl" text-anchor="end">CBLM</text>
<text transform="translate(373.98,626.1) rotate(-45)" class="xl" text-anchor="end">DBLM</text>
<text transform="translate(25,475) rotate(-90)" class="yt" text-anchor="middle">Relative abundance (Genus)</text>
<rect x="392.1" y="177.8" width="16.4" height="5.2" fill="#EC7765"/>
<text x="418" y="184" class="lg">Basidiomycota</text>
<rect x="392.1" y="196.2" width="16.4" height="5.2" fill="#F29A5A"/>
<text x="418" y="202.4" class="lg">Mortierellomycota</text>
<rect x="392.1" y="214.7" width="16.4" height="5.2" fill="#F8B466"/>
<text x="418" y="220.9" class="lg">Ascomycota</text>
<rect x="392.1" y="233" width="16.4" height="5.2" fill="#FED577"/>
<text x="418" y="239.2" class="lg">unclassified_k_Fungi</text>
<rect x="392.1" y="251.6" width="16.4" height="5.2" fill="#FFE8C2"/>
<text x="418" y="257.8" class="lg">others</text>
<rect x="392.1" y="423.8" width="16.4" height="4.8" fill="#EC7765"/>
<text x="418" y="429.8" class="lg">Mortierella</text>
<rect x="392.1" y="440.25" width="16.4" height="4.8" fill="#F29A5A"/>
<text x="418" y="446.25" class="lg">unclassified_k_Fungi</text>
<rect x="392.1" y="456.7" width="16.4" height="4.8" fill="#F8B466"/>
<text x="418" y="462.7" class="lg">Entoloma</text>
<rect x="392.1" y="473.15" width="16.4" height="4.8" fill="#FED577"/>
<text x="418" y="479.15" class="lg">Sebacina</text>
<rect x="392.1" y="489.6" width="16.4" height="4.8" fill="#FFE8C2"/>
<text x="418" y="495.6" class="lg">unclassified_p_Ascomycota</text>
<rect x="392.1" y="506.05" width="16.4" height="4.8" fill="#B2DEE4"/>
<text x="418" y="512.05" class="lg">unclassified_o_Helotiales</text>
<rect x="392.1" y="522.5" width="16.4" height="4.8" fill="#80C5DC"/>
<text x="418" y="528.5" class="lg">Tomentella</text>
<rect x="392.1" y="538.95" width="16.4" height="4.8" fill="#64A0B9"/>
<text x="418" y="544.95" class="lg">Leptodontidium</text>
<rect x="392.1" y="555.4" width="16.4" height="4.8" fill="#2A5E8C"/>
<text x="418" y="561.4" class="lg">Trechispora</text>
<rect x="392.1" y="571.85" width="16.4" height="4.8" fill="#487DAA"/>
<text x="418" y="577.85" class="lg">unclassified_c_Leotiomycetes</text>
<rect x="392.1" y="588.3" width="16.4" height="4.8" fill="#1E3884"/>
<text x="418" y="594.3" class="lg">others</text>
<text x="12.8" y="671.3" class="pl">(c)</text>
<rect x="106.4" y="679.1" width="90" height="8.7" fill="#376795" stroke="#111" stroke-width="1.4"/>
<text x="100.6" y="687.4" class="cl" text-anchor="end" textLength="69.1" lengthAdjust="spacingAndGlyphs">p_Glomeromycota</text>
<rect x="106.4" y="690.6" width="138.62" height="8.7" fill="#72BCD5" stroke="#111" stroke-width="1.4"/>
<text x="100.6" y="698.85" class="cl" text-anchor="end" textLength="77.3" lengthAdjust="spacingAndGlyphs">p_Mortierellomycota</text>
<rect x="106.4" y="702.1" width="126.24" height="8.7" fill="#72BCD5" stroke="#111" stroke-width="1.4"/>
<text x="100.6" y="710.3" class="cl" text-anchor="end" textLength="85.7" lengthAdjust="spacingAndGlyphs">p_unclassified_k_Fungi</text>
<rect x="106.4" y="713.6" width="140.13" height="8.7" fill="#FFD06F" stroke="#111" stroke-width="1.4"/>
<text x="100.6" y="721.75" class="cl" text-anchor="end" textLength="54.5" lengthAdjust="spacingAndGlyphs">p_Ascomycota</text>
<rect x="106.4" y="725.1" width="104.79" height="8.7" fill="#FFD06F" stroke="#111" stroke-width="1.4"/>
<text x="100.6" y="733.2" class="cl" text-anchor="end" textLength="75.4" lengthAdjust="spacingAndGlyphs">p_Entorrhizomycota</text>
<rect x="106.4" y="736.6" width="104.79" height="8.7" fill="#FFD06F" stroke="#111" stroke-width="1.4"/>
<text x="100.6" y="744.65" class="cl" text-anchor="end" textLength="64.3" lengthAdjust="spacingAndGlyphs">p_Rozellomycota</text>
<rect x="106.4" y="748.1" width="96.04" height="8.7" fill="#E76254" stroke="#111" stroke-width="1.4"/>
<text x="100.6" y="756.1" class="cl" text-anchor="end" textLength="64.3" lengthAdjust="spacingAndGlyphs">p_Mucoromycota</text>
<line x1="106.4" y1="676.6" x2="106.4" y2="758.6" stroke="#444" stroke-width="0.95" stroke-dasharray="1.6,2.6" opacity="0.85"/>
<line x1="106.4" y1="672.3" x2="106.4" y2="676.4" stroke="#666" stroke-width="1.1"/>
<line x1="106.4" y1="758.6" x2="106.4" y2="763.6" stroke="#555" stroke-width="1.1"/>
<text x="106.4" y="775.2" class="ax" text-anchor="middle">0</text>
<line x1="136.6" y1="676.6" x2="136.6" y2="758.6" stroke="#444" stroke-width="0.95" stroke-dasharray="1.6,2.6" opacity="0.85"/>
<line x1="136.6" y1="672.3" x2="136.6" y2="676.4" stroke="#666" stroke-width="1.1"/>
<line x1="136.6" y1="758.6" x2="136.6" y2="763.6" stroke="#555" stroke-width="1.1"/>
<text x="136.6" y="775.2" class="ax" text-anchor="middle">1</text>
<line x1="166.8" y1="676.6" x2="166.8" y2="758.6" stroke="#444" stroke-width="0.95" stroke-dasharray="1.6,2.6" opacity="0.85"/>
<line x1="166.8" y1="672.3" x2="166.8" y2="676.4" stroke="#666" stroke-width="1.1"/>
<line x1="166.8" y1="758.6" x2="166.8" y2="763.6" stroke="#555" stroke-width="1.1"/>
<text x="166.8" y="775.2" class="ax" text-anchor="middle">2</text>
<line x1="197" y1="676.6" x2="197" y2="758.6" stroke="#444" stroke-width="0.95" stroke-dasharray="1.6,2.6" opacity="0.85"/>
<line x1="197" y1="672.3" x2="197" y2="676.4" stroke="#666" stroke-width="1.1"/>
<line x1="197" y1="758.6" x2="197" y2="763.6" stroke="#555" stroke-width="1.1"/>
<text x="197" y="775.2" class="ax" text-anchor="middle">3</text>
<line x1="227.2" y1="676.6" x2="227.2" y2="758.6" stroke="#444" stroke-width="0.95" stroke-dasharray="1.6,2.6" opacity="0.85"/>
<line x1="227.2" y1="672.3" x2="227.2" y2="676.4" stroke="#666" stroke-width="1.1"/>
<line x1="227.2" y1="758.6" x2="227.2" y2="763.6" stroke="#555" stroke-width="1.1"/>
<text x="227.2" y="775.2" class="ax" text-anchor="middle">4</text>
<line x1="257.4" y1="676.6" x2="257.4" y2="758.6" stroke="#444" stroke-width="0.95" stroke-dasharray="1.6,2.6" opacity="0.85"/>
<line x1="257.4" y1="672.3" x2="257.4" y2="676.4" stroke="#666" stroke-width="1.1"/>
<line x1="257.4" y1="758.6" x2="257.4" y2="763.6" stroke="#555" stroke-width="1.1"/>
<text x="257.4" y="775.2" class="ax" text-anchor="middle">5</text>
<text x="179.2" y="787.3" class="axt" text-anchor="middle">LDA SCORE (log 10)</text>
<text x="289.3" y="671.3" class="pl">(d)</text>
<rect x="372.1" y="681.3" width="150.39" height="10.8" fill="#FFE6B7" stroke="#111" stroke-width="1.4"/>
<text x="367.5" y="689" class="cl" text-anchor="end" textLength="77.5" lengthAdjust="spacingAndGlyphs">p_Mortierellomycota</text>
<rect x="372.1" y="695.6" width="126.22" height="11.1" fill="#FFE6B7" stroke="#111" stroke-width="1.4"/>
<text x="367.5" y="705" class="cl" text-anchor="end" textLength="71.4" lengthAdjust="spacingAndGlyphs">p_Chytridiomycota</text>
<line x1="372.1" y1="672.8" x2="372.1" y2="716" stroke="#555" stroke-width="0.95" stroke-dasharray="1.5,2.6" opacity="0.85"/>
<line x1="388.89" y1="672.8" x2="388.89" y2="716" stroke="#555" stroke-width="0.95" stroke-dasharray="1.5,2.6" opacity="0.85"/>
<line x1="405.67" y1="672.8" x2="405.67" y2="716" stroke="#555" stroke-width="0.95" stroke-dasharray="1.5,2.6" opacity="0.85"/>
<line x1="422.46" y1="672.8" x2="422.46" y2="716" stroke="#555" stroke-width="0.95" stroke-dasharray="1.5,2.6" opacity="0.85"/>
<line x1="439.24" y1="672.8" x2="439.24" y2="716" stroke="#555" stroke-width="0.95" stroke-dasharray="1.5,2.6" opacity="0.85"/>
<line x1="456.03" y1="672.8" x2="456.03" y2="716" stroke="#555" stroke-width="0.95" stroke-dasharray="1.5,2.6" opacity="0.85"/>
<line x1="472.81" y1="672.8" x2="472.81" y2="716" stroke="#555" stroke-width="0.95" stroke-dasharray="1.5,2.6" opacity="0.85"/>
<line x1="489.6" y1="672.8" x2="489.6" y2="716" stroke="#555" stroke-width="0.95" stroke-dasharray="1.5,2.6" opacity="0.85"/>
<line x1="506.38" y1="672.8" x2="506.38" y2="716" stroke="#555" stroke-width="0.95" stroke-dasharray="1.5,2.6" opacity="0.85"/>
<line x1="523.16" y1="672.8" x2="523.16" y2="716" stroke="#555" stroke-width="0.95" stroke-dasharray="1.5,2.6" opacity="0.85"/>
<text x="371.8" y="726" class="ax2" text-anchor="middle">0</text>
<text x="405.37" y="726" class="ax2" text-anchor="middle">1</text>
<text x="438.94" y="726" class="ax2" text-anchor="middle">2</text>
<text x="472.51" y="726" class="ax2" text-anchor="middle">3</text>
<text x="506.08" y="726" class="ax2" text-anchor="middle">4</text>
<text x="439.4" y="737.1" class="axt" text-anchor="middle">LDA SCORE (log 10)</text>
<rect x="375.3" y="749.2" width="16.5" height="5.6" fill="#E76254"/>
<text x="399.3" y="755.3" class="dl">A</text>
<rect x="413.4" y="749.2" width="16.5" height="5.6" fill="#FFD06F"/>
<text x="437.4" y="755.3" class="dl">B</text>
<rect x="451.6" y="749.2" width="16.5" height="5.6" fill="#72BCD5"/>
<text x="475.6" y="755.3" class="dl">C</text>
<rect x="375.3" y="764.5" width="16.5" height="5.6" fill="#376795"/>
<text x="399.3" y="770.6" class="dl">D</text>
<rect x="413.4" y="764.5" width="16.5" height="5.6" fill="#FFE6B7"/>
<text x="437.4" y="770.6" class="dl">MI</text>
</svg>
</body></html>
